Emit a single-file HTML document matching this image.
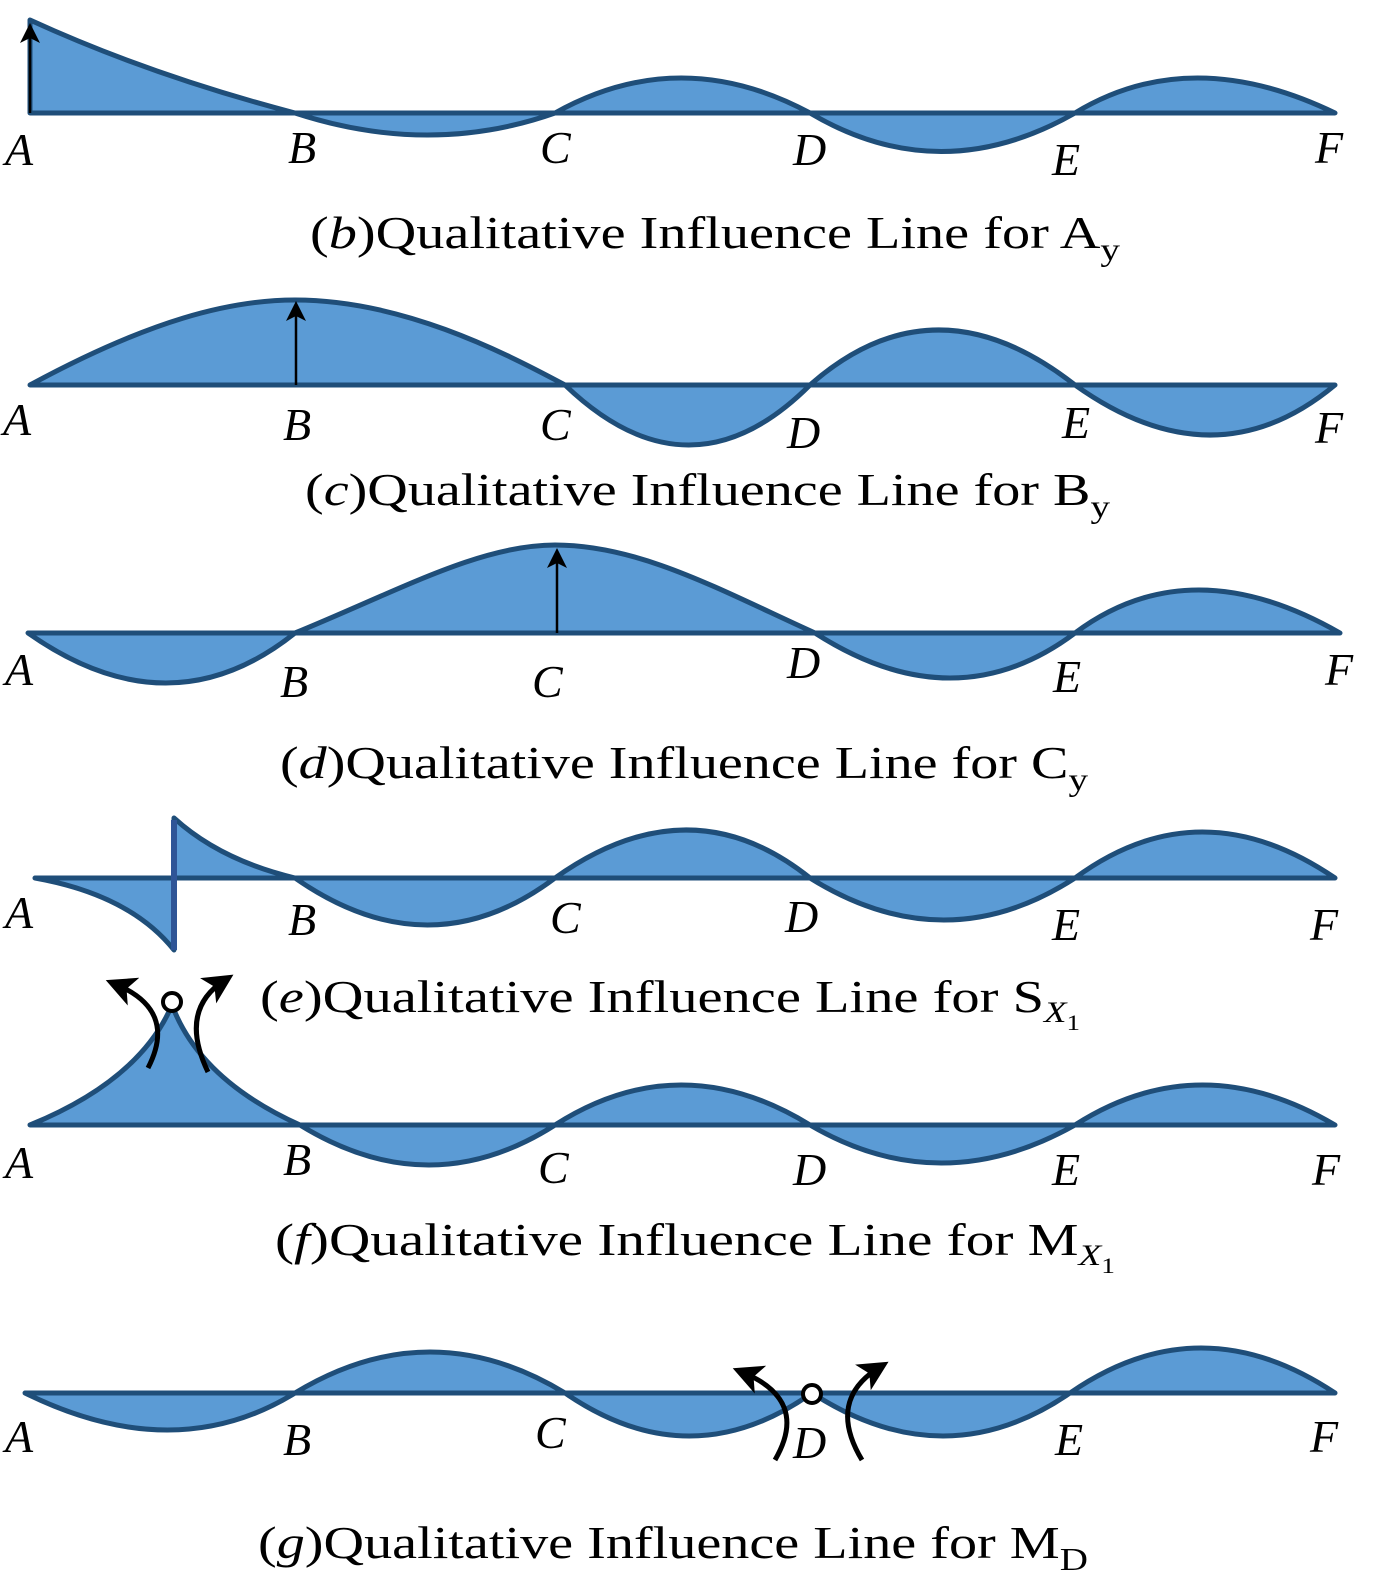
<!DOCTYPE html>
<html><head><meta charset="utf-8"><style>
html,body{margin:0;padding:0;background:#fff}
svg{display:block}
.f{fill:#5b9bd5;stroke:#1f4e79;stroke-width:5;stroke-linejoin:round}
.b{stroke:#1f4e79;stroke-width:3}
.l{font-family:"Liberation Serif",serif;font-style:italic;font-size:46px;fill:#000}
.c{font-family:"Liberation Serif",serif;font-size:46px;fill:#000}
.ar{stroke:#000;stroke-width:2.5;fill:none}
.m{stroke:#000;stroke-width:5;fill:none}
</style></head><body>
<svg width="1379" height="1593" viewBox="0 0 1379 1593" xmlns="http://www.w3.org/2000/svg">
<defs>
<marker id="ah" markerWidth="8" markerHeight="8" refX="6" refY="4" orient="auto" markerUnits="strokeWidth"><path d="M0,0 L8,4 L0,8 L2,4z" fill="#000"/></marker>
<marker id="mh" markerWidth="6" markerHeight="6" refX="4" refY="3" orient="auto" markerUnits="strokeWidth"><path d="M0,0 L6,3 L0,6 L1.5,3z" fill="#000"/></marker>
</defs>

<!-- b -->
<path class="f" d="M30,20 Q150,75 295,113 Q430,157 555,113 Q680,43 810,113 Q940,190 1075,113 Q1190,43 1335,113 L30,113 Z"/>
<line class="b" x1="30" y1="113" x2="1335" y2="113"/>
<line class="ar" x1="30" y1="113" x2="30" y2="28" marker-end="url(#ah)"/>
<text class="l" x="5" y="165">A</text><text class="l" x="288" y="163">B</text><text class="l" x="540" y="163">C</text><text class="l" x="793" y="165">D</text><text class="l" x="1052" y="175">E</text><text class="l" x="1315" y="163">F</text>
<text class="c" x="310" y="248" textLength="810" lengthAdjust="spacingAndGlyphs">(<tspan font-style="italic">b</tspan>)Qualitative Influence Line for A<tspan font-size="32" dy="12">y</tspan></text>

<!-- c -->
<path class="f" d="M30,385 C150,320 230,300 295,300 C400,300 500,350 565,385 Q690,505 810,385 Q935,275 1075,385 Q1215,485 1335,385 Z"/>
<line class="b" x1="30" y1="385" x2="1335" y2="385"/>
<line class="ar" x1="296" y1="385" x2="296" y2="306" marker-end="url(#ah)"/>
<text class="l" x="3" y="435">A</text><text class="l" x="283" y="440">B</text><text class="l" x="540" y="440">C</text><text class="l" x="787" y="448">D</text><text class="l" x="1062" y="438">E</text><text class="l" x="1315" y="443">F</text>
<text class="c" x="305" y="505" textLength="805" lengthAdjust="spacingAndGlyphs">(<tspan font-style="italic">c</tspan>)Qualitative Influence Line for B<tspan font-size="32" dy="12">y</tspan></text>

<!-- d -->
<path class="f" d="M28,633 Q170,733 295,633 C400,590 480,545 555,545 C640,545 720,590 815,633 Q955,723 1075,633 Q1190,547 1340,633 Z"/>
<line class="b" x1="28" y1="633" x2="1340" y2="633"/>
<line class="ar" x1="557" y1="633" x2="557" y2="553" marker-end="url(#ah)"/>
<text class="l" x="5" y="685">A</text><text class="l" x="280" y="697">B</text><text class="l" x="532" y="697">C</text><text class="l" x="787" y="678">D</text><text class="l" x="1053" y="692">E</text><text class="l" x="1325" y="685">F</text>
<text class="c" x="280" y="778" textLength="808" lengthAdjust="spacingAndGlyphs">(<tspan font-style="italic">d</tspan>)Qualitative Influence Line for C<tspan font-size="32" dy="12">y</tspan></text>

<!-- e -->
<path class="f" d="M35,878 Q130,895 174,950 L174,818 Q220,860 295,878 Q430,972 555,878 Q690,782 810,878 Q945,962 1075,878 Q1200,786 1335,878 Z"/>
<line class="b" x1="35" y1="878" x2="1335" y2="878"/>
<line x1="174" y1="820" x2="174" y2="950" stroke="#2f5597" stroke-width="6"/>
<text class="l" x="5" y="928">A</text><text class="l" x="288" y="935">B</text><text class="l" x="550" y="933">C</text><text class="l" x="785" y="932">D</text><text class="l" x="1052" y="940">E</text><text class="l" x="1310" y="940">F</text>
<text class="c" x="260" y="1012" textLength="820" lengthAdjust="spacingAndGlyphs">(<tspan font-style="italic">e</tspan>)Qualitative Influence Line for S<tspan font-style="italic" font-size="30" dy="10">X</tspan><tspan font-size="22" dy="8">1</tspan></text>

<!-- f -->
<path class="f" d="M30,1125 Q140,1080 172,1005 Q200,1080 300,1125 Q430,1205 555,1125 Q680,1045 810,1125 Q940,1201 1075,1125 Q1200,1045 1335,1125 Z"/>
<line class="b" x1="30" y1="1125" x2="1335" y2="1125"/>
<circle cx="172" cy="1002" r="9" fill="#fff" stroke="#000" stroke-width="4"/>
<path class="m" d="M148,1068 Q178,1010 115,984" marker-end="url(#mh)"/>
<path class="m" d="M208,1072 Q178,1010 225,980" marker-end="url(#mh)"/>
<text class="l" x="5" y="1178">A</text><text class="l" x="283" y="1175">B</text><text class="l" x="538" y="1183">C</text><text class="l" x="793" y="1185">D</text><text class="l" x="1052" y="1185">E</text><text class="l" x="1312" y="1185">F</text>
<text class="c" x="275" y="1255" textLength="840" lengthAdjust="spacingAndGlyphs">(<tspan font-style="italic">f</tspan>)Qualitative Influence Line for M<tspan font-style="italic" font-size="30" dy="10">X</tspan><tspan font-size="22" dy="8">1</tspan></text>

<!-- g -->
<path class="f" d="M25,1393 Q175,1467 295,1393 Q430,1311 565,1393 Q690,1479 812,1393 Q945,1479 1070,1393 Q1200,1303 1335,1393 Z"/>
<line class="b" x1="25" y1="1393" x2="1335" y2="1393"/>
<circle cx="812" cy="1394" r="9" fill="#fff" stroke="#000" stroke-width="4"/>
<path class="m" d="M775,1460 Q810,1400 742,1372" marker-end="url(#mh)"/>
<path class="m" d="M862,1460 Q826,1400 880,1367" marker-end="url(#mh)"/>
<text class="l" x="5" y="1452">A</text><text class="l" x="283" y="1455">B</text><text class="l" x="535" y="1448">C</text><text class="l" x="793" y="1458">D</text><text class="l" x="1055" y="1455">E</text><text class="l" x="1310" y="1452">F</text>
<text class="c" x="258" y="1558" textLength="830" lengthAdjust="spacingAndGlyphs">(<tspan font-style="italic">g</tspan>)Qualitative Influence Line for M<tspan font-size="32" dy="12">D</tspan></text>
</svg>
</body></html>
